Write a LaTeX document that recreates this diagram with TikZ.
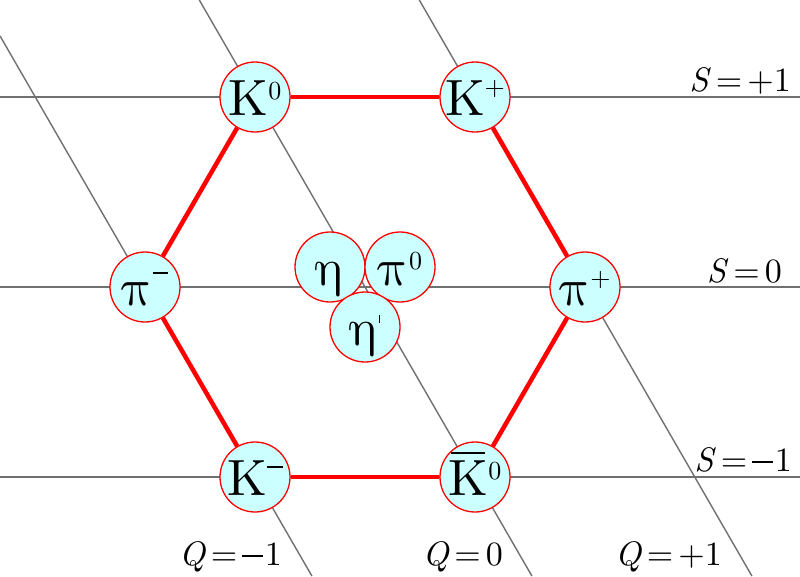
\documentclass[tikz,border=0pt]{standalone}
\usepackage{fontspec}
\usepackage{unicode-math}
\setmainfont{lmroman10-regular.otf}[ItalicFont=lmroman10-italic.otf, BoldFont=lmroman10-bold.otf]
\setmathfont{Latin Modern Math}
\definecolor{mfill}{HTML}{CCFFFF}
\definecolor{gridgray}{HTML}{707070}
\newcommand\psup[2]{\raisebox{#1}{\fontsize{26}{26}\selectfont #2}}
\newcommand\gch[1]{{\fontsize{53}{53}\selectfont$#1$}}
\newcommand\labsp{\hspace{5pt}}
\newcommand\myminus{\raisebox{0.24em}{\rule{0.6em}{0.05em}}}
\begin{document}
\begin{tikzpicture}[x=1pt,y=-1pt,
  meson/.style={circle, draw=red, line width=1.3pt, fill=mfill, minimum size=70pt,
    inner sep=0pt, text height=36pt, text depth=0pt, font=\fontsize{51}{51}\selectfont},
  gridline/.style={draw=gridgray, line width=1.4pt},
  hexedge/.style={draw=red, line width=4.5pt},
  lab/.style={inner sep=0pt, anchor=base east, font=\fontsize{34}{34}\selectfont}]
\useasboundingbox (0,0) rectangle (800,576);
% grid lines
\coordinate (s1l) at (0,97);   \coordinate (s1r) at (800,97);
\coordinate (s0l) at (0,287);  \coordinate (s0r) at (800,287);
\coordinate (sml) at (0,477);  \coordinate (smr) at (800,477);
\coordinate (qmt) at (0,35.9);   \coordinate (qmb) at (311.9,576);
\coordinate (q0t) at (199.3,0);  \coordinate (q0b) at (531.9,576);
\coordinate (qpt) at (419.3,0);  \coordinate (qpb) at (751.9,576);
\draw[gridline] (s1l) -- (s1r);
\draw[gridline] (s0l) -- (s0r);
\draw[gridline] (sml) -- (smr);
\draw[gridline] (qmt) -- (qmb);
\draw[gridline] (q0t) -- (q0b);
\draw[gridline] (qpt) -- (qpb);
% mesons
\node[meson] (K0) at (255,97) {K\psup{16pt}{0}};
\node[meson] (Kp) at (475,97) {K\psup{20pt}{+}};
\node[meson] (pim) at (145,287) {\gch{\uppi}\psup{25pt}{\myminus}};
\node[meson] (pip) at (585,287) {\gch{\uppi}\psup{19pt}{+}};
\node[meson] (Km) at (255,477) {K\psup{21pt}{\myminus}};
\node[meson] (K0b) at (475,477) {\rlap{\hspace{2pt}\rule[41pt]{34pt}{2.5pt}}K\psup{16pt}{0}};
\node[meson] (eta) at (330,267) {\gch{\upeta}};
\node[meson] (pi0) at (400,267) {\gch{\uppi}\psup{16pt}{0}};
\node[meson] (etap) at (365,327) {\gch{\upeta}\hspace{1pt}\raisebox{22pt}{\rule{1.8pt}{8pt}}};
% hexagon
\draw[hexedge] (K0) -- (Kp);
\draw[hexedge] (Kp) -- (pip);
\draw[hexedge] (pip) -- (K0b);
\draw[hexedge] (K0b) -- (Km);
\draw[hexedge] (Km) -- (pim);
\draw[hexedge] (pim) -- (K0);
% labels
\node[lab] (Sp) at (791,91) {\textit{S}\labsp=\labsp+1};
\node[lab] (S0) at (782,282) {\textit{S}\labsp=\labsp0};
\node[lab] (Sm) at (792,471) {\textit{S}\labsp=\labsp\myminus\hspace{2pt}1};
\node[lab] (Qm) at (282,565) {\textit{Q}\labsp=\labsp\myminus\hspace{2pt}1};
\node[lab] (Q0) at (503,565) {\textit{Q}\labsp=\labsp0};
\node[lab] (Qp) at (722,565) {\textit{Q}\labsp=\labsp+1};
\end{tikzpicture}
\end{document}
